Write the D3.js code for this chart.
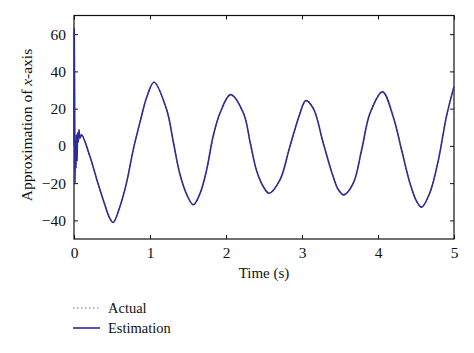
<!DOCTYPE html>
<html>
<head>
<meta charset="utf-8">
<script src="https://cdn.jsdelivr.net/npm/d3@7"></script>
<style>
  body { margin: 0; background: #fff; }
  svg text { font-family: "Liberation Serif", "DejaVu Serif", serif; fill: #111; }
</style>
</head>
<body>
<svg id="chart" width="474" height="353"></svg>
<script>
// values (time in s, approximation of x-axis)
var times = [0, 0.003, 0.008, 0.013, 0.018, 0.025, 0.032, 0.04, 0.048, 0.057, 0.066, 0.08, 0.1,
    0.21, 0.3, 0.385, 0.47, 0.517, 0.605, 0.69, 0.78, 0.87, 0.96, 1.053,
    1.22, 1.31, 1.39, 1.485, 1.57, 1.66, 1.745, 1.83, 1.92, 2.06,
    2.23, 2.32, 2.4, 2.49, 2.566, 2.71, 2.84, 2.97, 3.05,
    3.15, 3.28, 3.41, 3.48, 3.55, 3.675, 3.785, 3.895, 4.06,
    4.2, 4.31, 4.42, 4.51, 4.575, 4.68, 4.795, 4.9, 5.0];
var estimation = [0, 63, 25, -20, 2, -12, 6, -8, 7, 2, 8.6, 4.3, 5.9,
    -5.7, -18, -29, -38.8, -41.1, -32.5, -20, -2, 13, 26.5, 34.2,
    19.3, 1.4, -14.6, -26.3, -31.6, -25.4, -12.9, 5, 17.5, 27.5,
    17.5, 1.4, -12.9, -21.8, -25.4, -18.2, -0.4, 17, 24.3,
    20, 1.4, -16.5, -23.6, -26.3, -20, -2.1, 17.5, 29,
    15.7, -2.1, -20, -29.9, -32.9, -25.4, -7.5, 15.7, 31.8];
var actual = estimation.slice(); // hidden under the estimation everywhere
var xTicks = [0, 1, 2, 3, 4, 5];
var yTicks = [-40, -20, 0, 20, 40, 60];
var legendNames = ["Actual", "Estimation"];

var svg = d3.select("#chart");
var pL = 74, pR = 454, pT = 15.5, pB = 239;

var x = d3.scaleLinear().domain([0, 5]).range([pL, pR]);
var y = d3.scaleLinear().domain([-50, 70]).range([pB, pT]);

function fmt(d) { return d < 0 ? "\u2212" + Math.abs(d) : String(d); }

// axes with inward ticks on all four sides
svg.append("g").attr("transform", "translate(0," + pB + ")")
    .call(d3.axisBottom(x).tickValues(xTicks).tickSizeInner(-4).tickSizeOuter(0).tickPadding(8).tickFormat(fmt));
svg.append("g").attr("transform", "translate(" + pL + ",0)")
    .call(d3.axisLeft(y).tickValues(yTicks).tickSizeInner(-4).tickSizeOuter(0).tickPadding(8).tickFormat(fmt));
svg.append("g").attr("transform", "translate(0," + pT + ")")
    .call(d3.axisTop(x).tickValues(xTicks).tickSizeInner(-4).tickSizeOuter(0).tickFormat(""));
svg.append("g").attr("transform", "translate(" + pR + ",0)")
    .call(d3.axisRight(y).tickValues(yTicks).tickSizeInner(-4).tickSizeOuter(0).tickFormat(""));

svg.selectAll(".tick text").attr("font-size", 15.5).attr("font-family", "Liberation Serif");
svg.selectAll(".tick line").attr("stroke", "#111");
svg.selectAll(".domain").remove();
svg.append("rect").attr("x", pL).attr("y", pT)
    .attr("width", pR - pL).attr("height", pB - pT)
    .attr("fill", "none").attr("stroke", "#111").attr("stroke-width", 1.2);

var line = d3.line()
    .x(function (d, i) { return x(times[i]); })
    .y(function (d) { return y(d); })
    .curve(d3.curveCatmullRom.alpha(0.5));

svg.append("path").datum(actual).attr("d", line)
    .attr("fill", "none").attr("stroke", "#d23030").attr("stroke-width", 1.2)
    .attr("stroke-dasharray", "1.5,2");
svg.append("path").datum(estimation).attr("d", line)
    .attr("fill", "none").attr("stroke", "#2c2c98").attr("stroke-width", 1.6);

// axis titles
svg.append("text").attr("x", (pL + pR) / 2).attr("y", 278)
    .attr("text-anchor", "middle").attr("font-size", 15).text("Time (s)");
var yl = svg.append("text")
    .attr("transform", "translate(32,125) rotate(-90)")
    .attr("text-anchor", "middle").attr("font-size", 15.5);
yl.append("tspan").text("Approximation of ");
yl.append("tspan").attr("font-style", "italic").text("x");
yl.append("tspan").text("-axis");

// legend
var leg = svg.selectAll(".leg").data(legendNames).enter().append("g")
    .attr("class", "leg")
    .attr("transform", function (d, i) { return "translate(73," + (308 + i * 20) + ")"; });
leg.append("line").attr("x1", 0).attr("x2", 27).attr("y1", 0).attr("y2", 0)
    .attr("stroke", function (d, i) { return i === 0 ? "#c05050" : "#2c2c98"; })
    .attr("stroke-width", function (d, i) { return i === 0 ? 1 : 1.6; })
    .attr("stroke-dasharray", function (d, i) { return i === 0 ? "1.5,2.5" : null; });
leg.append("text").attr("x", 35).attr("y", 4.5).attr("font-size", 14.5).text(function (d) { return d; });
</script>
</body>
</html>
